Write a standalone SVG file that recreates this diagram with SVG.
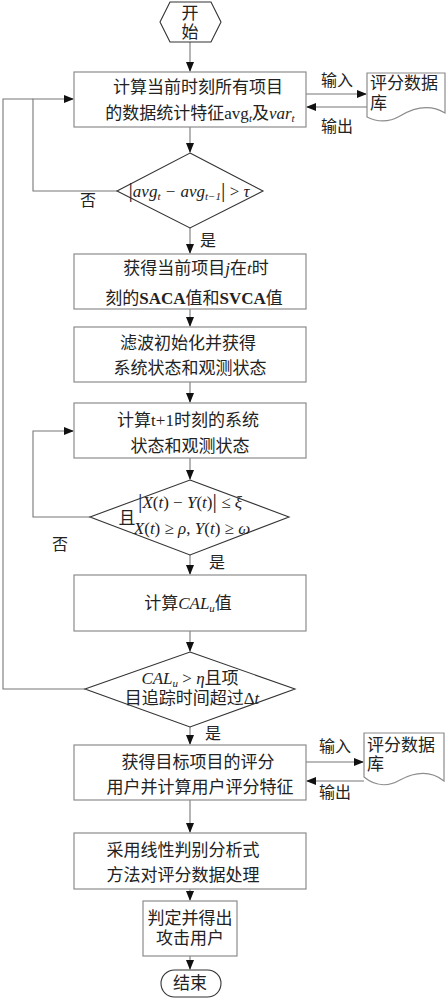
<svg xmlns="http://www.w3.org/2000/svg" width="446" height="1000" viewBox="0 0 446 1000">
<defs>
<marker id="arr" markerWidth="10" markerHeight="8" refX="9" refY="4" orient="auto" markerUnits="userSpaceOnUse">
<path d="M0,0 L10,4 L0,8 Z" fill="#111"/>
</marker>
<style>
.box{fill:#fff;stroke:#8c8c8c;stroke-width:1.2}
.dia{fill:#fff;stroke:#333;stroke-width:1.1}
.con{fill:none;stroke:#777;stroke-width:1.1}
.t{font-family:"Liberation Serif","Noto Sans CJK SC",serif;font-size:17px;fill:#222;text-anchor:middle}
.tl{font-family:"Liberation Serif","Noto Sans CJK SC",serif;font-size:17px;fill:#222}
.lab{font-family:"Liberation Serif","Noto Sans CJK SC",serif;font-size:16px;fill:#222;text-anchor:middle}
.m{font-family:"Liberation Serif","Times New Roman",serif;font-style:italic}
.sub{font-size:11px}
</style>
</defs>
<rect width="446" height="1000" fill="#fff"/>

<g id="connectors">
<path class="con" d="M190,42 V71" marker-end="url(#arr)"/>
<path class="con" d="M190,127 V152" marker-end="url(#arr)"/>
<path class="con" d="M190,228 V253" marker-end="url(#arr)"/>
<path class="con" d="M190,309 V326" marker-end="url(#arr)"/>
<path class="con" d="M190,382 V402" marker-end="url(#arr)"/>
<path class="con" d="M190,458 V479" marker-end="url(#arr)"/>
<path class="con" d="M190,555 V574" marker-end="url(#arr)"/>
<path class="con" d="M190,631 V651" marker-end="url(#arr)"/>
<path class="con" d="M190,727 V744" marker-end="url(#arr)"/>
<path class="con" d="M190,800 V832" marker-end="url(#arr)"/>
<path class="con" d="M190,889 V900" marker-end="url(#arr)"/>
<path class="con" d="M190,956 V969" marker-end="url(#arr)"/>
<path class="con" d="M117,191 H33 V99 H73" marker-end="url(#arr)"/>
<path class="con" d="M90,517 H33 V431 H73" marker-end="url(#arr)"/>
<path class="con" d="M85,689 H3 V99 H33"/>
<path class="con" d="M306,94 H366" marker-end="url(#arr)"/>
<path class="con" d="M367,107 H307" marker-end="url(#arr)"/>
<path class="con" d="M306,762 H363" marker-end="url(#arr)"/>
<path class="con" d="M364,781 H307" marker-end="url(#arr)"/>
<text class="lab" x="88" y="206">否</text>
<text class="lab" x="208" y="246">是</text>
<text class="lab" x="60" y="550">否</text>
<text class="lab" x="217" y="568">是</text>
<text class="lab" x="213" y="739">是</text>
<text class="lab" x="337" y="86">输入</text>
<text class="lab" x="337" y="132">输出</text>
<text class="lab" x="335" y="752">输入</text>
<text class="lab" x="335" y="798">输出</text>
</g>

<g id="start">
<polygon class="dia" points="160,22 170,2 211,2 221,22 211,42 170,42"/>
<text class="t" x="190" y="19">开</text>
<text class="t" x="190" y="38">始</text>
</g>

<g id="stats">
<rect class="box" x="74" y="72" width="232" height="55"/>
<text class="t" x="198" y="93">计算当前时刻所有项目</text>
<text class="t" x="200" y="119">的数据统计特征avg<tspan class="m sub" dy="3">t</tspan><tspan dy="-3">及</tspan><tspan class="m">var</tspan><tspan class="m sub" dy="3">t</tspan></text>
</g>

<g id="db1">
<path class="box" d="M367,73 H445 V113 C430,104 415,107 400,116 C388,123 377,122 367,117 Z"/>
<text class="tl" x="370" y="89" font-size="18">评分数据</text>
<text class="tl" x="370" y="109" font-size="18">库</text>
</g>

<g id="cond1">
<polygon class="dia" points="190,153 263,191 190,228 117,191"/>
<text class="t m" x="189" y="197"><tspan font-style="normal" font-size="22">|</tspan>avg<tspan class="sub" dy="3">t</tspan><tspan dy="-3"> − avg</tspan><tspan class="sub" dy="3">t−1</tspan><tspan dy="-3" font-style="normal" font-size="22">|</tspan><tspan font-style="normal"> &gt; </tspan>τ</text>
</g>

<g id="getval">
<rect class="box" x="74" y="254" width="232" height="55"/>
<text class="t" x="196" y="274">获得当前项目<tspan class="m">j</tspan>在<tspan class="m">t</tspan>时</text>
<text class="t" x="194" y="304">刻的<tspan font-weight="bold">SACA</tspan>值和<tspan font-weight="bold">SVCA</tspan>值</text>
</g>

<g id="filter">
<rect class="box" x="74" y="327" width="232" height="55"/>
<text class="t" x="188" y="349">滤波初始化并获得</text>
<text class="t" x="190" y="374">系统状态和观测状态</text>
</g>

<g id="nextstate">
<rect class="box" x="74" y="403" width="232" height="55"/>
<text class="t" x="188" y="426">计算t+1时刻的系统</text>
<text class="t" x="190" y="452">状态和观测状态</text>
</g>

<g id="cond2">
<polygon class="dia" points="190,480 289,517 190,555 90,517"/>
<text class="t m" x="190" y="508"><tspan font-style="normal" font-size="22">|</tspan>X<tspan font-style="normal">(</tspan>t<tspan font-style="normal">) − </tspan>Y<tspan font-style="normal">(</tspan>t<tspan font-style="normal">)</tspan><tspan font-style="normal" font-size="22">|</tspan><tspan font-style="normal"> ≤ </tspan>ξ</text>
<text class="t" x="127" y="524">且</text>
<text class="t m" x="192" y="534">X<tspan font-style="normal">(</tspan>t<tspan font-style="normal">) ≥ </tspan>ρ<tspan font-style="normal">, </tspan>Y<tspan font-style="normal">(</tspan>t<tspan font-style="normal">) ≥ </tspan>ω</text>
</g>

<g id="calu">
<rect class="box" x="74" y="575" width="232" height="56"/>
<text class="t" x="188" y="609">计算<tspan class="m">CAL</tspan><tspan class="m sub" dy="3">u</tspan><tspan dy="-3">值</tspan></text>
</g>

<g id="cond3">
<polygon class="dia" points="190,652 295,689 190,727 85,689"/>
<text class="t" x="190" y="684"><tspan class="m">CAL</tspan><tspan class="m sub" dy="3">u</tspan><tspan dy="-3"> &gt; </tspan><tspan class="m">η</tspan>且项</text>
<text class="t" x="192" y="704">目追踪时间超过Δ<tspan class="m">t</tspan></text>
</g>

<g id="users">
<rect class="box" x="74" y="745" width="232" height="55"/>
<text class="t" x="198" y="768">获得目标项目的评分</text>
<text class="t" x="200" y="793">用户并计算用户评分特征</text>
</g>

<g id="db2">
<path class="box" d="M364,733 H444 V781 C430,770 415,772 400,780 C388,787 375,786 364,777 Z"/>
<text class="tl" x="367" y="751" font-size="18">评分数据</text>
<text class="tl" x="367" y="770" font-size="18">库</text>
</g>

<g id="lda">
<rect class="box" x="74" y="833" width="232" height="56"/>
<text class="t" x="183" y="856">采用线性判别分析式</text>
<text class="t" x="183" y="881">方法对评分数据处理</text>
</g>

<g id="judge">
<rect class="box" x="143" y="901" width="94" height="55"/>
<text class="t" x="190" y="924">判定并得出</text>
<text class="t" x="190" y="944">攻击用户</text>
</g>

<g id="end">
<rect class="dia" x="161" y="970" width="60" height="27" rx="13.5"/>
<text class="t" x="190" y="989">结束</text>
</g>
</svg>
